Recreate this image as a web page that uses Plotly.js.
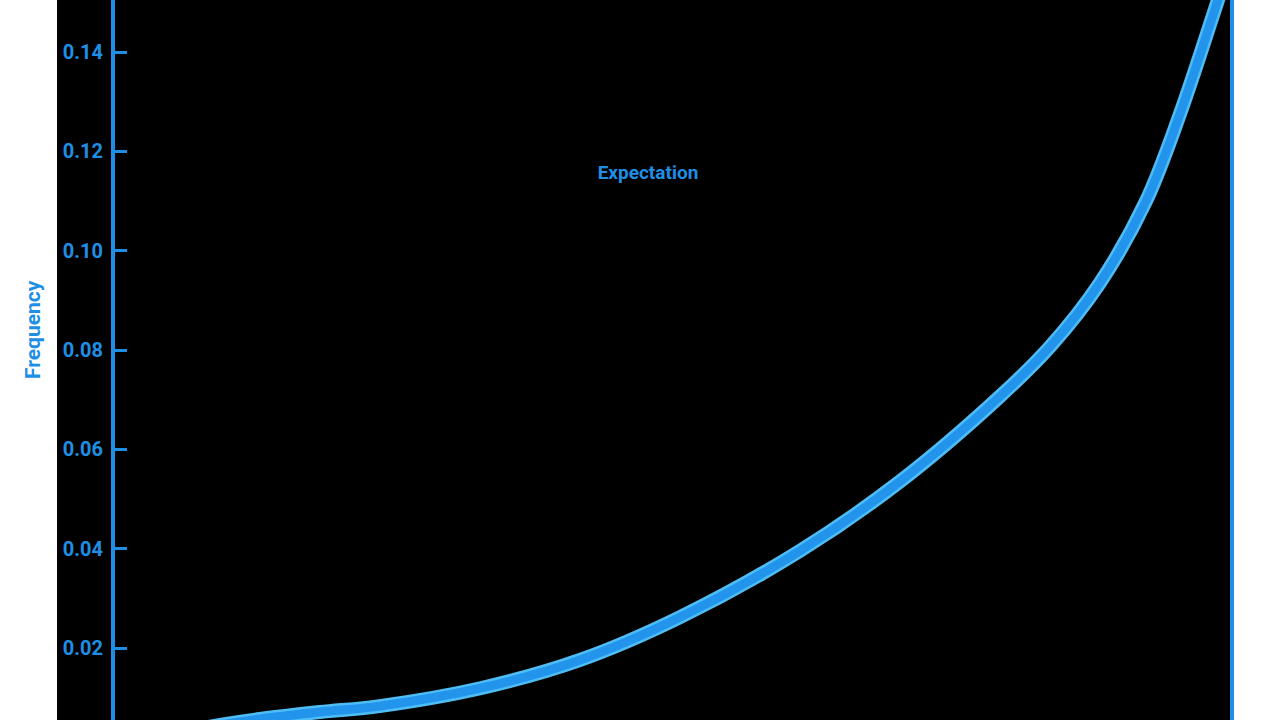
<!DOCTYPE html>
<html>
<head>
<meta charset="utf-8">
<script src="https://cdn.plot.ly/plotly-3.0.1.min.js"></script>
<style>
  html, body { margin: 0; padding: 0; background: #fff; }
  #myDiv { width: 1280px; height: 720px; }
</style>
</head>
<body>
<div id="myDiv"></div>
<script>
// values
var xs = [7.9, 13.9, 17.3, 22.4, 27.5, 36.1, 44.6, 53.1, 63.3, 71.9, 80.4,
          84.7, 88.9, 92.8, 95.7, 98.7, 99.8];
var ys = [0.0019, 0.0045, 0.0057, 0.0071, 0.0083, 0.0119, 0.0176, 0.0262, 0.0395, 0.0536, 0.0707,
          0.0808, 0.0935, 0.1098, 0.1273, 0.1485, 0.1565];

var chartTitle = 'Expectation';
var yTitle = 'Frequency';

var blue = '#1f8fe5';
var fnt = 'Roboto, Arial, sans-serif';

// lighter halo under the line, then the line itself
var glow = {
  x: xs,
  y: ys,
  type: 'scatter',
  mode: 'lines',
  line: {color: '#4fbdf5', width: 14, shape: 'spline', smoothing: 1},
  hoverinfo: 'skip',
  showlegend: false
};

var trace1 = {
  x: xs,
  y: ys,
  type: 'scatter',
  mode: 'lines',
  line: {color: '#2294ec', width: 9, shape: 'spline', smoothing: 1},
  hoverinfo: 'skip',
  showlegend: false
};

var border = {
  // empty trace only to carry the right hand border axis
  x: [],
  y: [],
  yaxis: 'y2',
  showlegend: false
};

var data = [glow, trace1, border];

var layout = {
  width: 1280,
  height: 720,
  paper_bgcolor: '#ffffff',
  plot_bgcolor: '#000000',
  margin: {l: 57, r: 50, t: 0, b: 0},
  title: {
    text: chartTitle,
    xref: 'container', yref: 'container',
    x: 648 / 1280, y: 1 - 172 / 720,
    xanchor: 'center', yanchor: 'middle',
    font: {family: fnt, size: 19, color: blue, weight: 700}
  },
  xaxis: {
    range: [0, 100],
    visible: false,
    fixedrange: true
  },
  yaxis: {
    range: [0.0055, 0.1505],
    anchor: 'free',
    position: 56 / 1173,
    side: 'left',
    dtick: 0.02,
    tick0: 0,
    tickformat: '.2f',
    showgrid: false,
    zeroline: false,
    showline: true,
    linecolor: blue,
    linewidth: 4,
    ticks: 'inside',
    ticklen: 12,
    tickwidth: 3,
    tickcolor: blue,
    ticklabelstandoff: 4,
    tickfont: {family: fnt, size: 20, color: blue, weight: 700},
    fixedrange: true
  },
  yaxis2: {
    overlaying: 'y',
    side: 'right',
    anchor: 'x',
    range: [0.0055, 0.1505],
    showticklabels: false,
    ticks: '',
    showgrid: false,
    zeroline: false,
    showline: true,
    linecolor: blue,
    linewidth: 4,
    fixedrange: true
  },
  annotations: [{
    text: yTitle,
    textangle: -90,
    xref: 'paper', yref: 'paper',
    x: (33 - 57) / 1173, y: 1 - 330 / 720,
    xanchor: 'center', yanchor: 'middle',
    showarrow: false,
    font: {family: fnt, size: 21, color: blue, weight: 700}
  }]
};

Plotly.newPlot('myDiv', data, layout, {displayModeBar: false, staticPlot: true});
</script>
</body>
</html>
